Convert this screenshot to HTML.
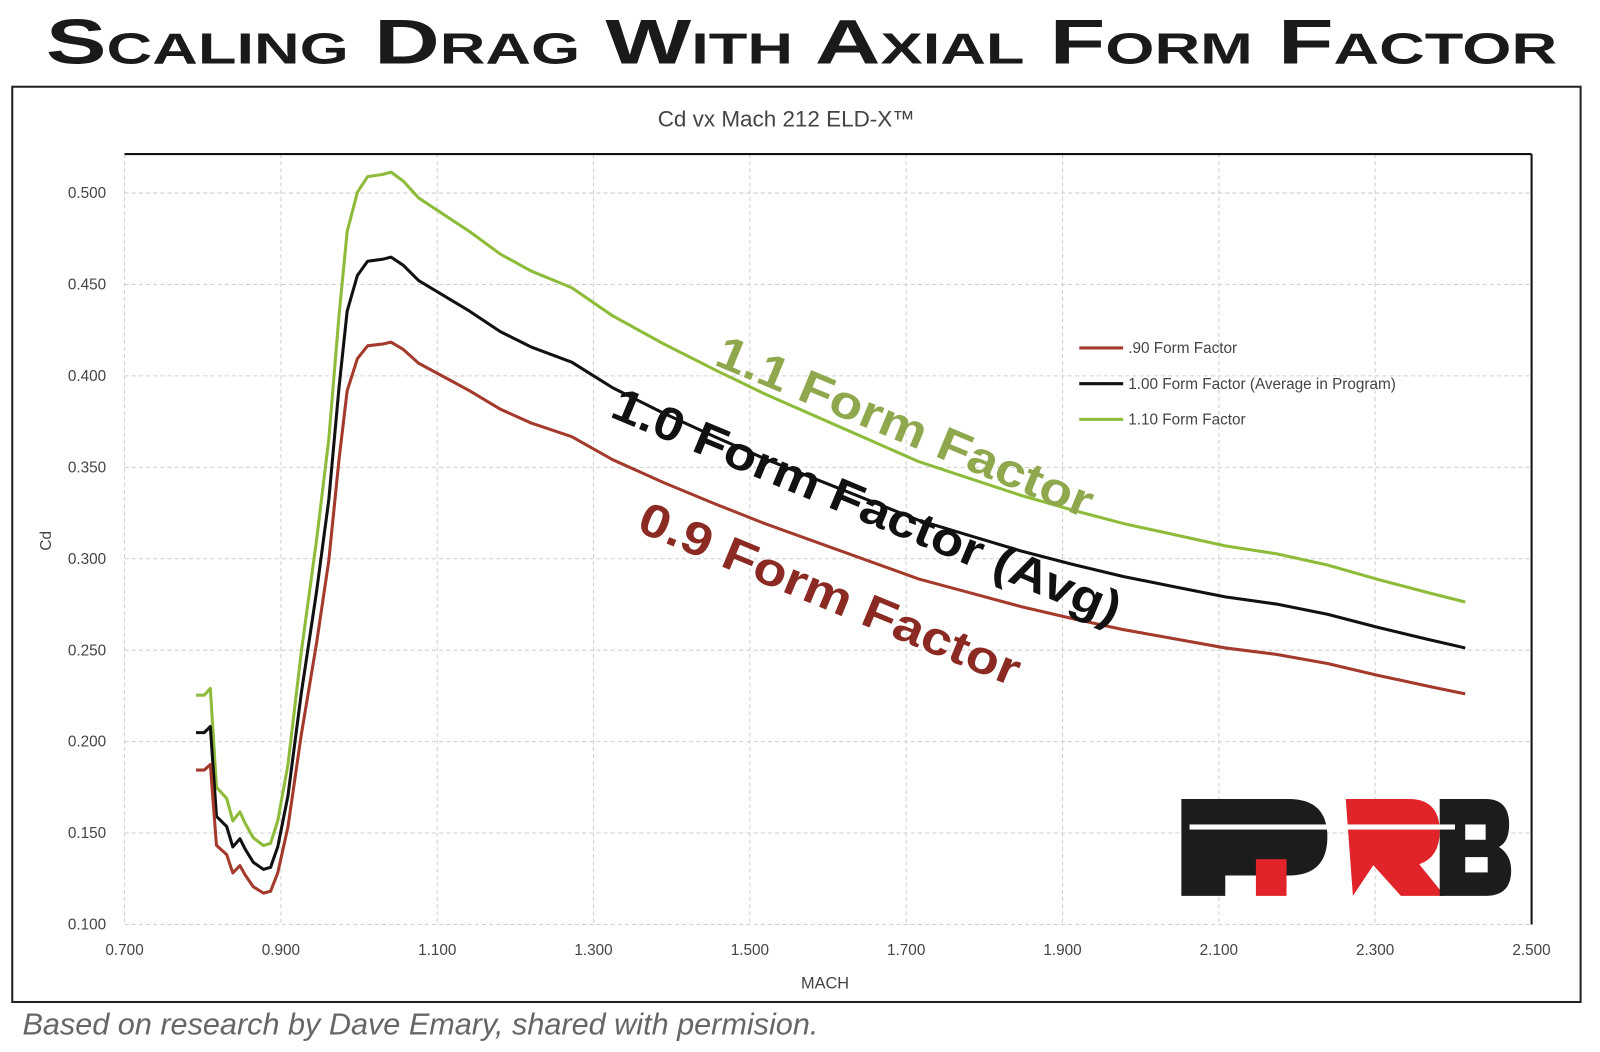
<!DOCTYPE html>
<html><head><meta charset="utf-8"><style>
html,body{margin:0;padding:0;background:#fff}
svg{display:block}
text{font-family:"Liberation Sans",sans-serif}
</style></head><body>
<svg id="s" width="1600" height="1052" viewBox="0 0 1567 1031" preserveAspectRatio="none" xmlns="http://www.w3.org/2000/svg">
<rect x="0" y="0" width="1567" height="1031" fill="#fff"/>
<text x="45" y="62" font-size="62" font-weight="bold" style="font-variant:small-caps" textLength="1480" lengthAdjust="spacingAndGlyphs" fill="#1a1a1a">Scaling Drag With Axial Form Factor</text>
<rect x="12" y="85" width="1536" height="897" fill="none" stroke="#222" stroke-width="2"/>
<text x="770" y="124" font-size="22" text-anchor="middle" fill="#444">Cd vx Mach 212 ELD-X™</text>
<g id="grid" stroke="#cfcfcf" stroke-width="1" stroke-dasharray="4,3"></g>
<line x1="122" y1="151" x2="1500" y2="151" stroke="#111" stroke-width="2"/>
<line x1="1500" y1="151" x2="1500" y2="906" stroke="#111" stroke-width="2"/>
<g id="lab" font-size="15" fill="#444"></g>
<text x="808" y="969" font-size="16" text-anchor="middle" fill="#444">MACH</text>
<text transform="translate(50,530) rotate(-90)" font-size="15" text-anchor="middle" fill="#444">Cd</text>
<g id="curves" fill="none" stroke-width="3" stroke-linejoin="round"></g>
<g font-size="15" fill="#444">
<line x1="1057" y1="341" x2="1100" y2="341" stroke="#a33a2c" stroke-width="3"/><text x="1105" y="346">.90 Form Factor</text>
<line x1="1057" y1="376" x2="1100" y2="376" stroke="#111" stroke-width="3"/><text x="1105" y="381">1.00 Form Factor (Average in Program)</text>
<line x1="1057" y1="411" x2="1100" y2="411" stroke="#8dbb3a" stroke-width="3"/><text x="1105" y="416">1.10 Form Factor</text>
</g>
<text transform="translate(698,357) rotate(22.5)" font-size="46" font-weight="bold" fill="#8fa84e" textLength="395" lengthAdjust="spacingAndGlyphs">1.1 Form Factor</text>
<text transform="translate(596,408) rotate(22.5)" font-size="46" font-weight="bold" fill="#111" textLength="535" lengthAdjust="spacingAndGlyphs">1.0 Form Factor (Avg)</text>
<text transform="translate(622,520) rotate(22.5)" font-size="46" font-weight="bold" fill="#8a2a22" textLength="400" lengthAdjust="spacingAndGlyphs">0.9 Form Factor</text>
<g>
<path d="M1157 783 H1262 Q1300 783 1300 820 Q1300 858 1262 858 H1200 V878 H1157 Z" fill="#1c1c1c"/>
<rect x="1230" y="842" width="30" height="36" fill="#e0242a"/>
<path d="M1318 783 H1380 Q1410 783 1410 815 Q1410 840 1390 847 L1415 878 H1372 L1345 848 L1325 878 Z" fill="#e0242a"/>
<path d="M1410 783 H1455 Q1478 783 1478 808 Q1478 825 1468 830 Q1480 838 1480 853 Q1480 878 1455 878 H1410 Z" fill="#1c1c1c"/>
<rect x="1435" y="808" width="20" height="15" fill="#fff"/><rect x="1435" y="840" width="22" height="15" fill="#fff"/>
<rect x="1165" y="808" width="260" height="5" fill="#fff"/>
</g>
<text x="22" y="1014" font-size="30" font-style="italic" fill="#666">Based on research by Dave Emary, shared with permision.</text>
</svg>
<script>
const NS="http://www.w3.org/2000/svg";
const X=m=>122+(m-0.7)/0.2*153.1, Y=c=>906-(c-0.1)*1792;
const g=document.getElementById('grid'),lab=document.getElementById('lab');
function el(p,t,a,txt){const e=document.createElementNS(NS,t);for(const k in a)e.setAttribute(k,a[k]);if(txt)e.textContent=txt;p.appendChild(e);return e;}
for(let i=0;i<=9;i++){const m=0.7+i*0.2,x=X(m);el(g,'line',{x1:x,y1:151,x2:x,y2:906});el(lab,'text',{x:x,y:936,'text-anchor':'middle'},m.toFixed(3));}
for(let i=0;i<=8;i++){const c=0.1+i*0.05,y=Y(c);el(g,'line',{x1:122,y1:y,x2:1500,y2:y});el(lab,'text',{x:104,y:y+5,'text-anchor':'end'},c.toFixed(3));}
const pts=[[192,718],[200,718],[206,712],[212,800],[222,810],[228,830],[235,822],[240,832],[248,845],[258,852],[265,850],[272,830],[282,780],[295,680],[310,580],[322,490],[332,380],[340,305],[350,270],[360,256],[375,254],[383,252],[395,260],[410,275],[430,287],[460,305],[490,325],[520,340],[560,355],[600,380],[650,405],[700,428],[750,450],[800,470],[850,490],[900,510],[950,525],[1000,540],[1050,553],[1100,565],[1150,575],[1200,585],[1250,592],[1300,602],[1350,615],[1400,627],[1435,635]];
const cv=document.getElementById('curves');
[[1.1,'#8dbb3a'],[1.0,'#111'],[0.9,'#a33a2c']].forEach(([f,col])=>{
 const d=pts.map((p,i)=>{const c=0.1+(906-p[1])/1792;return (i?'L':'M')+p[0]+' '+Y(c*f).toFixed(1);}).join(' ');
 el(cv,'path',{d:d,stroke:col});
});
</script>
</body></html>
